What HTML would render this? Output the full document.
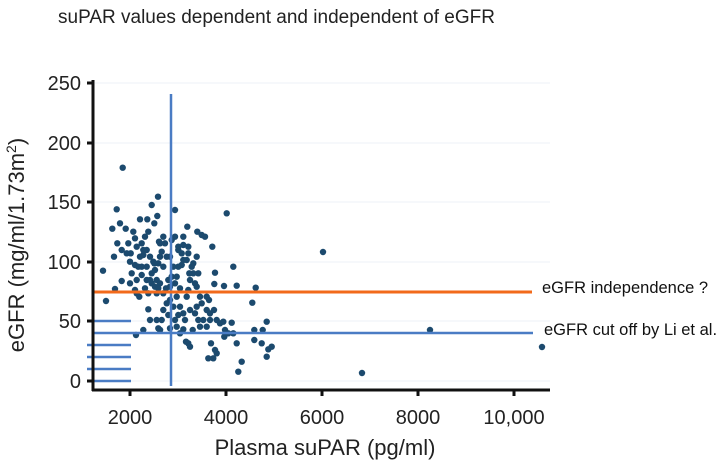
<!DOCTYPE html>
<html><head><meta charset="utf-8"><style>
html,body{margin:0;padding:0;background:#fff;}
svg{display:block;font-family:"Liberation Sans",Arial,sans-serif;}
</style></head><body>
<svg id="s" width="725" height="469" viewBox="0 0 725 469" xmlns="http://www.w3.org/2000/svg">
<text x="58" y="23" font-size="19" fill="#222">suPAR values dependent and independent of eGFR</text>
<g stroke="#eef1f7" stroke-width="1">
<line x1="95" x2="550" y1="83" y2="83"/><line x1="95" x2="550" y1="143" y2="143"/>
<line x1="95" x2="550" y1="202" y2="202"/><line x1="95" x2="550" y1="262" y2="262"/>
<line x1="95" x2="550" y1="321" y2="321"/><line x1="95" x2="550" y1="381" y2="381"/>
</g>
<g id="pts" fill="#1c4a6e"></g>
<g stroke="#4a7cc4" stroke-width="2.5">
<line x1="171" x2="171" y1="94" y2="386"/>
<line x1="93" x2="533" y1="333" y2="333"/>
<line x1="87" x2="131" y1="381" y2="381"/><line x1="87" x2="131" y1="369" y2="369"/>
<line x1="87" x2="131" y1="357" y2="357"/><line x1="87" x2="131" y1="345" y2="345"/>
<line x1="87" x2="131" y1="321" y2="321"/>
</g>
<line x1="93" x2="532" y1="292" y2="292" stroke="#f26a1b" stroke-width="3"/>
<g stroke="#111" stroke-width="3">
<line x1="93" x2="93" y1="80" y2="391"/>
<line x1="92" x2="550" y1="390" y2="390"/>
<line x1="87" x2="93" y1="83" y2="83"/><line x1="87" x2="93" y1="143" y2="143"/>
<line x1="87" x2="93" y1="202" y2="202"/><line x1="87" x2="93" y1="262" y2="262"/>
<line x1="87" x2="93" y1="321" y2="321"/><line x1="87" x2="93" y1="381" y2="381"/>
<line x1="130" x2="130" y1="390" y2="396"/><line x1="226" x2="226" y1="390" y2="396"/>
<line x1="322" x2="322" y1="390" y2="396"/><line x1="418" x2="418" y1="390" y2="396"/>
<line x1="514" x2="514" y1="390" y2="396"/>
</g>
<g font-size="20" fill="#222" text-anchor="end">
<text x="81" y="90">250</text><text x="81" y="150">200</text><text x="81" y="209">150</text>
<text x="81" y="269">100</text><text x="81" y="328">50</text><text x="81" y="388">0</text>
</g>
<g font-size="20" fill="#222" text-anchor="middle">
<text x="130" y="424">2000</text><text x="226" y="424">4000</text><text x="322" y="424">6000</text>
<text x="418" y="424">8000</text><text x="514" y="424">10,000</text>
</g>
<text x="325" y="455" font-size="22" fill="#222" text-anchor="middle">Plasma suPAR (pg/ml)</text>
<text transform="translate(24,245) rotate(-90)" font-size="22" fill="#222" text-anchor="middle">eGFR (mg/ml/1.73m<tspan font-size="14" dy="-8">2</tspan><tspan dy="8">)</tspan></text>
<text x="542" y="293" font-size="16.5" fill="#111">eGFR independence ?</text>
<text x="544" y="335" font-size="16.5" fill="#111">eGFR cut off by Li et al.</text>
</svg>
<script>
var z=[[188,263],[129,572],[138,663],[157,446],[170,388],[162,530],[172,490],[185,510],[185,603],[165,627],[197,446],[212,520],[220,455],[225,475],[240,418],[262,418],[230,500],[245,490],[255,470],[265,455],[210,545],[225,555],[240,530],[250,525],[270,530],[280,545],[215,580],[230,600],[245,585],[210,610],[225,630],[238,650],[230,640],[265,640],[290,640],[275,375],[294,350],[292,408],[300,490],[305,515],[295,550],[290,600],[300,610],[285,570],[310,560],[320,530],[315,490],[345,390],[345,470],[355,510],[330,530],[340,560],[350,590],[330,620],[345,610],[360,625],[330,660],[340,680],[350,650],[310,690],[320,670],[305,720],[300,750],[330,745],[345,720],[355,705],[370,700],[360,680],[380,650],[385,630],[390,600],[395,560],[380,540],[385,500],[382,440],[400,580],[410,530],[405,610],[390,690],[375,720],[370,748],[385,790],[390,800],[378,785],[398,750],[405,700],[410,680],[420,650],[425,670],[412,455],[425,465],[435,470],[457,500],[465,578],[463,612],[447,660],[440,690],[430,720],[415,720],[420,740],[440,740],[450,700],[462,690],[470,720],[480,730],[490,725],[495,750],[493,770],[505,760],[515,728],[520,560],[500,400],[492,618],[530,617],[530,790],[520,760],[445,835],[460,835],[465,810],[470,820],[453,790],[535,875],[545,845],[577,668],[587,623],[583,750],[583,780],[608,750],[605,790],[620,725],[620,830],[635,800],[625,808],[228,765],[250,750],[300,750],[265,688],[295,745],[270,720],[290,720],[260,600],[275,610],[285,620],[295,625],[255,625],[318,625],[310,640],[325,600],[335,590],[355,560],[365,555],[370,540],[400,550],[260,560],[275,580],[245,560],[200,520],[205,490],[180,430],[283,430],[297,485],[310,470],[335,480],[355,500],[365,520],[370,495],[370,470],[388,580],[415,580],[300,530],[385,520],[350,740],[360,760],[325,705],[410,620],[260,510],[250,510],[235,560],[270,600],[283,550],[440,650],[450,720]];
var g=document.getElementById('pts'),h='';
z.forEach(function(p){h+='<circle cx="'+(60+p[0]/3).toFixed(1)+'" cy="'+(80+p[1]/3).toFixed(1)+'" r="3.2"/>';});
[[323,252],[430,330],[542,347],[362,373]].forEach(function(p){h+='<circle cx="'+p[0]+'" cy="'+p[1]+'" r="3.2"/>';});
g.innerHTML=h;
</script>
</body></html>
